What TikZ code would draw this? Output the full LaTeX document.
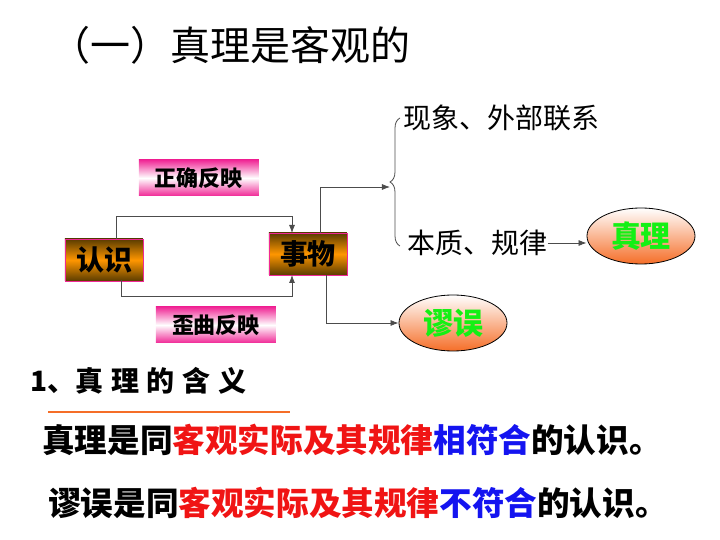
\documentclass[tikz,border=0pt]{standalone}
\usepackage{fontspec}
\newfontfamily\cjk{Noto Sans CJK SC}
\usetikzlibrary{arrows.meta, positioning, decorations.pathreplacing, shapes.geometric}
\definecolor{boxpink}{RGB}{240,40,150}
\definecolor{boxorange}{RGB}{255,150,0}
\definecolor{boxdark}{RGB}{90,60,0}
\definecolor{ellorange}{RGB}{245,110,40}
\definecolor{txtgreen}{RGB}{20,240,20}
\definecolor{txtred}{RGB}{240,20,20}
\definecolor{txtblue}{RGB}{20,20,240}
\tikzset{
  pinkbox/.style={minimum width=60pt, minimum height=18pt, inner sep=0pt,
    top color=boxpink, bottom color=boxpink, middle color=white,
    font=\cjk\fontsize{11}{11}\selectfont\bfseries},
  orangebox/.style={draw=boxpink, minimum width=39pt, minimum height=21pt, inner sep=0pt,
    top color=boxdark, bottom color=boxdark, middle color=boxorange,
    font=\cjk\fontsize{14}{14}\selectfont\bfseries},
  resultell/.style={draw, ellipse, minimum width=54pt, minimum height=28pt, inner sep=0pt,
    top color=white, bottom color=ellorange, text=txtgreen,
    font=\cjk\fontsize{15}{15}\selectfont\bfseries},
  plaintext/.style={inner sep=0pt, font=\cjk\fontsize{14}{14}\selectfont},
  sentence/.style={inner sep=0pt, anchor=west, font=\cjk\fontsize{16.3}{16.3}\selectfont\bfseries},
  flow/.style={draw=black!70, -{Latex[length=4pt, width=3pt]}}
}
\begin{document}
\begin{tikzpicture}[x=0.5pt, y=-0.5pt]
  \useasboundingbox (0,0) rectangle (720,540);

  \node (title) [inner sep=0pt, anchor=west, font=\cjk\fontsize{20}{20}\selectfont] at (50,45) {（一）真理是客观的};

  % boxes
  \node (zq) [pinkbox] at (199,178) {正确反映};
  \node (wq) [pinkbox] at (216,325) {歪曲反映};
  \node (rs) [orangebox] at (104,260) {认识};
  \node (sw) [orangebox] at (308,254) {事物};

  \coordinate (rsT) at (116,239);
  \coordinate (rsB) at (121,280);
  \coordinate (swT) at (292,233);
  \coordinate (swB) at (292,275);
  \draw[flow] (rsT) |- (292,216) -- (swT);
  \draw[flow] (rsB) |- (292,296) -- (swB);

  % phenomena and essence
  \node (xx) [plaintext, anchor=west] at (403,118) {现象、外部联系};
  \node (bz) [plaintext, anchor=west] at (407,243) {本质、规律};
  \coordinate (brT) at (400,118);
  \coordinate (brB) at (400,246);
  \draw[black!70, decorate, decoration={brace, amplitude=5pt, mirror}] (brT) -- (brB);
  \coordinate (brM) at (390,187);
  \draw[flow] (320,233) |- (brM);

  \node (zl) [resultell] at (641,236) {真理};
  \node (mw) [resultell] at (453,323) {谬误};
  \draw[flow] (bz.east) -- (bz.east -| zl.west);
  \draw[flow] (326,275) |- (mw);

  % meaning
  \node (hy) [inner sep=0pt, anchor=west, font=\cjk\fontsize{14}{14}\selectfont\bfseries] at (30,381) {1、真\;理\;的\;含\;义};
  \coordinate (lnA) at (48,412);
  \coordinate (lnB) at (290,412);
  \draw[ellorange, line width=1pt] (lnA) -- (lnB);

  \node (s1) [sentence] at (42,440)
    {真理是同\textcolor{txtred}{客观实际及其规律}\textcolor{txtblue}{相符合}的认识。};
  \node (s2) [sentence] at (48,503)
    {谬误是同\textcolor{txtred}{客观实际及其规律}\textcolor{txtblue}{不符合}的认识。};
\end{tikzpicture}
\end{document}
